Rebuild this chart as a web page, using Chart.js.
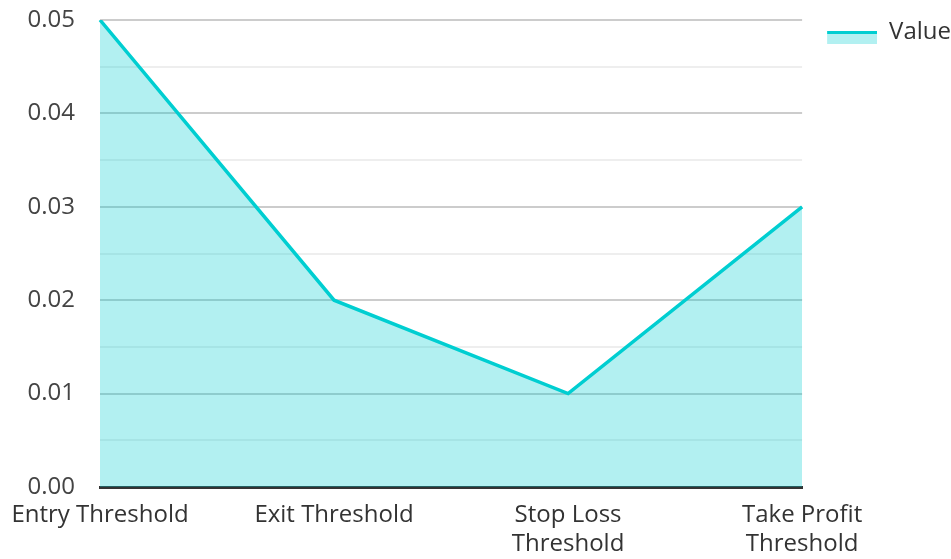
<!DOCTYPE html>
<html>
<head>
<meta charset="utf-8">
<script src="https://cdn.jsdelivr.net/npm/chart.js@4"></script>
<style>
  html, body { margin: 0; padding: 0; background: #fff; }
  #wrap { width: 951px; height: 559px; }
</style>
</head>
<body>
<div id="wrap"><canvas id="chartValores"></canvas></div>
<script>
const categorias = ['Entry Threshold', 'Exit Threshold', ['Stop Loss', 'Threshold'], ['Take Profit', 'Threshold']];
const valores = [0.05, 0.02, 0.01, 0.03];
const serieNombre = 'Value';

const lineaColor = '#00CED1';
const rellenoColor = 'rgba(0, 206, 209, 0.3)';

// muestra de leyenda: linea arriba y relleno abajo
const muestra = document.createElement('canvas');
muestra.width = 55;
muestra.height = 26;
const mctx = muestra.getContext('2d');
mctx.fillStyle = rellenoColor;
mctx.fillRect(5, 15, 50, 10);
mctx.fillStyle = lineaColor;
mctx.fillRect(5, 12, 50, 3);

Chart.defaults.font.family = '"Open Sans", "Noto Sans", sans-serif';
Chart.defaults.font.size = 24;
Chart.defaults.color = '#333';

new Chart(document.getElementById('chartValores'), {
    type: 'line',
    data: {
        labels: categorias,
        datasets: [{
            label: serieNombre,
            data: valores,
            borderColor: lineaColor,
            backgroundColor: rellenoColor,
            borderWidth: 3.5,
            fill: 'origin',
            tension: 0,
            pointRadius: 0,
            pointHoverRadius: 0
        }]
    },
    options: {
        responsive: true,
        maintainAspectRatio: false,
        animation: false,
        layout: { padding: { top: 0, left: 0, bottom: 0, right: -10 } },
        plugins: {
            tooltip: { enabled: false },
            legend: {
                position: 'right',
                align: 'start',
                labels: {
                    usePointStyle: true,
                    pointStyleWidth: 55,
                    boxHeight: 14,
                    padding: 20,
                    color: '#333',
                    generateLabels(chart) {
                        const items = Chart.defaults.plugins.legend.labels.generateLabels(chart);
                        items.forEach(it => { it.pointStyle = muestra; });
                        return items;
                    }
                }
            }
        },
        scales: {
            x: {
                offset: false,
                grid: { display: false },
                border: { display: true, color: '#333', width: 3 },
                ticks: { color: '#333', maxRotation: 0, autoSkip: false, padding: 6 },
                afterFit(scale) {
                    scale.height = 72;
                }
            },
            y: {
                min: 0,
                max: 0.05,
                border: { display: false },
                grid: {
                    drawTicks: false,
                    color: ctx => (ctx.index % 2 === 0 ? '#cccccc' : '#eeeeee'),
                    lineWidth: 2
                },
                ticks: {
                    stepSize: 0.005,
                    color: '#444',
                    padding: 25,
                    callback: (v, i) => (i % 2 === 0 ? v.toFixed(2) : '')
                },
                afterFit(scale) {
                    scale.width = 100;
                    scale.paddingTop = 20;
                    scale.paddingBottom = 0;
                }
            }
        }
    }
});
</script>
</body>
</html>
